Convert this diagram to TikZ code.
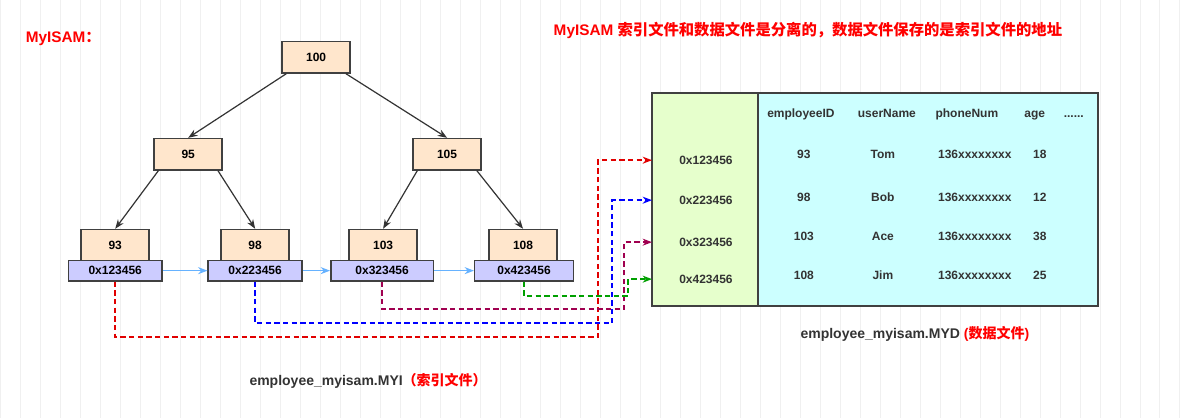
\documentclass[tikz,border=0pt]{standalone}
\usepackage{fontspec}
\setmainfont{Liberation Sans}
\newfontfamily\cjk{Noto Sans CJK SC}
\usetikzlibrary{arrows.meta}
\definecolor{keyfill}{RGB}{255,230,204}
\definecolor{addrfill}{RGB}{204,204,255}
\definecolor{lgreen}{RGB}{230,255,204}
\definecolor{lcyan}{RGB}{204,255,255}
\definecolor{lblue}{RGB}{102,178,255}
\definecolor{dred}{RGB}{225,0,0}
\definecolor{dpurple}{RGB}{160,0,80}
\definecolor{dgreen}{RGB}{0,160,0}
\begin{document}
\begin{tikzpicture}[x=0.75pt,y=-0.75pt,font=\bfseries\fontsize{9}{11}\selectfont,
 key/.style={draw=black!75,line width=1.1pt,fill=keyfill,minimum width=51pt,minimum height=23.5pt,inner sep=0},
 addr/.style={draw=black!75,line width=1.1pt,fill=addrfill,minimum height=15.5pt,inner sep=0},
 tr/.style={draw=black!80,line width=0.9pt,-{Stealth[length=7pt]}},
 lb/.style={draw=lblue,line width=1.1pt,-{Stealth[length=7pt]}},
 dsh/.style={line width=1.1pt,dash pattern=on 4pt off 2.5pt,-{Stealth[length=7pt]}},
 txt/.style={text=black!80,text height=1.6ex,text depth=.3ex}]
\fill[white] (0,0) rectangle (1184,418);
\draw[black!6] (0,0) grid[step=20] (1184,418);
\useasboundingbox (0,0) rectangle (1184,418);
\node[key] (k100) at (316,57) {100};
\node[key] (k95) at (188,154) {95};
\node[key] (k105) at (447,154) {105};
\node[key] (k93) at (115,245) {93};
\node[key] (k98) at (255,245) {98};
\node[key] (k103) at (383,245) {103};
\node[key] (k108) at (523,245) {108};
\node[addr,minimum width=70.5pt] (a1) at (115,270.5) {0x123456};
\node[addr,minimum width=70.5pt] (a2) at (255,270.5) {0x223456};
\node[addr,minimum width=77pt] (a3) at (382,270.5) {0x323456};
\node[addr,minimum width=74pt] (a4) at (524,270.5) {0x423456};
\draw[tr] (k100.south west) ++(5,0) -- (k95.north);
\draw[tr] (k100.south east) ++(-5,0) -- (k105.north);
\draw[tr] (k95.south west) ++(5,0) -- (k93.north);
\draw[tr] (k95.south east) ++(-5,0) -- (k98.north);
\draw[tr] (k105.south west) ++(5,0) -- (k103.north);
\draw[tr] (k105.south east) ++(-5,0) -- (k108.north);
\draw[lb] (a1) -- (a2); \draw[lb] (a2) -- (a3); \draw[lb] (a3) -- (a4);
% table
\draw[line width=1.1pt,draw=black!75,fill=lgreen] (652,93) rectangle (758,306);
\draw[line width=1.1pt,draw=black!75,fill=lcyan] (758,93) rectangle (1098,306);
\node[txt] (p1) at (706,160) {0x123456};
\node[txt] (p2) at (706,200) {0x223456};
\node[txt] (p3) at (706,242) {0x323456};
\node[txt] (p4) at (706,279) {0x423456};
\coordinate (e1) at (652,160); \coordinate (e2) at (652,200);
\coordinate (e3) at (652,242); \coordinate (e4) at (652,279);
\foreach \x/\t in {801/employeeID,887/userName,967/phoneNum,1035/age}
  \node[txt] at (\x,113) {\t};
\node[txt] (dots) at (1074,113) {......};
\foreach \y/\a/\b/\c/\d in {154/93/Tom/136xxxxxxxx/18,197/98/Bob/136xxxxxxxx/12,236/103/Ace/136xxxxxxxx/38,275/108/Jim/136xxxxxxxx/25}{
  \node[txt] at (804,\y) {\a}; \node[txt] at (883,\y) {\b};
  \node[txt] at (975,\y) {\c}; \node[txt] at (1040,\y) {\d};}
\draw[dsh,dred] (a1.south) |- (598,337) |- (e1);
\draw[dsh,blue] (a2.south) |- (612,323) |- (e2);
\draw[dsh,dpurple] (a3.south) |- (624,309) |- (e3);
\draw[dsh,dgreen] (a4.south) |- (628,296) |- (e4);
\node[text=red,font=\bfseries\fontsize{11.5}{13}\selectfont] (t0) at (63,38) {MyISAM{\cjk ：}};
\node[text=red,font=\bfseries\fontsize{11.5}{13}\selectfont] (t1) at (808,30) {MyISAM {\cjk 索引文件和数据文件是分离的，数据文件保存的是索引文件的地址}};
\node[txt,font=\bfseries\fontsize{10.5}{12}\selectfont] (t2) at (915,334) {employee\_myisam.MYD \textcolor{red}{({\cjk 数据文件})}};
\node[txt,font=\bfseries\fontsize{10.5}{12}\selectfont] (t3) at (368,381) {employee\_myisam.MYI\textcolor{red}{\cjk （索引文件）}};
\end{tikzpicture}
\end{document}
